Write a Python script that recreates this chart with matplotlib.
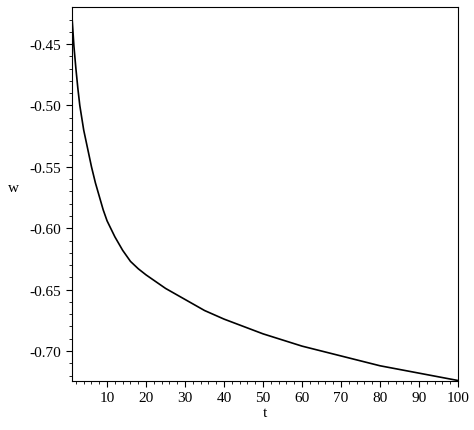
import numpy as np
import matplotlib.pyplot as plt

plt.rcParams['font.family'] = ['Liberation Serif', 'DejaVu Serif']

t = [1, 1.5, 2, 2.5, 3, 4, 5, 6, 7, 8, 9, 10, 12, 14, 16, 18, 20, 25, 30, 35, 40,
     45, 50, 55, 60, 65, 70, 75, 80, 85, 90, 95, 100]
w = [-0.428, -0.452, -0.47, -0.486, -0.50, -0.52, -0.535, -0.55, -0.563, -0.574,
     -0.585, -0.594, -0.607, -0.618, -0.627, -0.633, -0.638, -0.649, -0.658,
     -0.667, -0.674, -0.680, -0.686, -0.691, -0.696, -0.700, -0.704, -0.708,
     -0.712, -0.715, -0.718, -0.721, -0.724]

fig = plt.figure(figsize=(4.74, 4.31), dpi=100)
ax = fig.add_axes([72/474, 1-382/431, 386/474, 374/431])
ax.plot(t, w, color='black', lw=1.2)
ax.set_xlim(1, 100)
ax.set_ylim(-0.7244, -0.4198)
ax.set_xticks(range(10, 101, 10))
ax.set_yticks([-0.45, -0.5, -0.55, -0.6, -0.65, -0.7])
ax.set_yticklabels(['-0.45', '-0.50', '-0.55', '-0.60', '-0.65', '-0.70'])
ax.set_xticks(range(2, 101, 2), minor=True)
ax.set_yticks(np.arange(-0.72, -0.42, 0.01), minor=True)
ax.tick_params(labelsize=11, length=4, top=False, right=False)
ax.tick_params(which='minor', length=2, top=False, right=False)
ax.set_xlabel('t', fontsize=11, labelpad=1)
ax.set_ylabel('w', fontsize=11, rotation=0, labelpad=12)
fig.savefig('out.png')
